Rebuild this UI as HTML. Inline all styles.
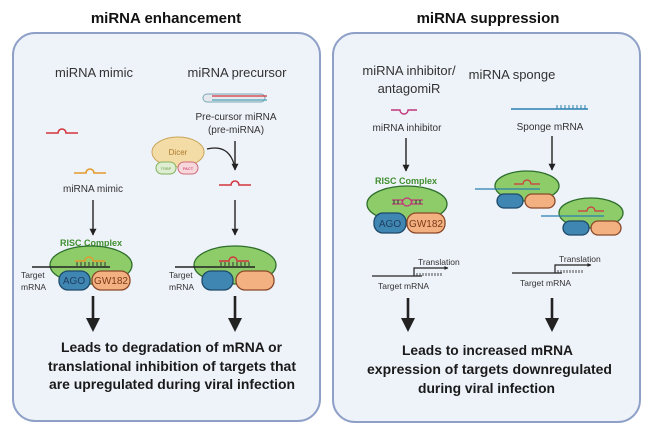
<!DOCTYPE html>
<html><head><meta charset="utf-8"><style>
html,body{margin:0;padding:0;background:#fff;width:650px;height:435px;overflow:hidden}
svg{display:block;font-family:"Liberation Sans",Arial,sans-serif}
</style></head><body>
<svg width="650" height="435" viewBox="0 0 650 435" xmlns="http://www.w3.org/2000/svg">
<defs>
<marker id="ahb" viewBox="0 0 10 10" refX="9" refY="5" markerWidth="3.2" markerHeight="3.2" orient="auto"><path d="M0,0L10,5L0,10z" fill="#222"/></marker>
<marker id="ah" viewBox="0 0 10 10" refX="9" refY="5" markerWidth="5" markerHeight="5" orient="auto"><path d="M0,0L10,5L0,10z" fill="#222"/></marker>
</defs>
<text x="166" y="23" font-size="15" font-weight="bold" text-anchor="middle" fill="#111">miRNA enhancement</text>
<text x="488" y="23" font-size="15" font-weight="bold" text-anchor="middle" fill="#111">miRNA suppression</text>
<rect x="13" y="33" width="307" height="388" rx="22" fill="#eef2f9" stroke="#8fa0c8" stroke-width="2"/>
<rect x="333" y="33" width="307" height="389" rx="22" fill="#eef2f9" stroke="#8fa0c8" stroke-width="2"/>

<g fill="#333" font-size="13">
<text x="94" y="77" text-anchor="middle">miRNA mimic</text>
<text x="237" y="77" text-anchor="middle">miRNA precursor</text>
<text x="409" y="75" text-anchor="middle">miRNA inhibitor/</text>
<text x="409" y="93" text-anchor="middle">antagomiR</text>
<text x="512" y="79" text-anchor="middle">miRNA sponge</text>
</g>

<g stroke="#d2353d" stroke-width="1.6" fill="none">
<path d="M46,133h12a4,4 0 0 1 8,0h12"/>
<path d="M219,185h12a4,4 0 0 1 8,0h12"/>
</g>
<g stroke="#e39a2a" stroke-width="1.6" fill="none"><path d="M74,173h12a4,4 0 0 1 8,0h12"/></g>
<rect x="203" y="94" width="62" height="8" rx="4" fill="#e6e8ee" stroke="#7aa9b5"/>
<path d="M212,96h55" stroke="#d2353d" stroke-width="1.2"/>
<path d="M212,100h55" stroke="#4da3b8" stroke-width="1.2"/>
<text x="236" y="120" font-size="10" text-anchor="middle" fill="#333">Pre-cursor miRNA</text>
<text x="236" y="133" font-size="10" text-anchor="middle" fill="#333">(pre-miRNA)</text>
<ellipse cx="178" cy="152" rx="26" ry="15" fill="#f3dca6" stroke="#c9a55a"/>
<text x="178" y="155" font-size="8" text-anchor="middle" fill="#b07a2a">Dicer</text>
<rect x="156" y="162" width="20" height="12" rx="6" fill="#dfeed2" stroke="#7fb35b"/>
<rect x="178" y="162" width="20" height="12" rx="6" fill="#f6d7dc" stroke="#cf6b7a"/>
<text x="166" y="170" font-size="4" text-anchor="middle" fill="#6a9a4a">TRBP</text>
<text x="188" y="170" font-size="4" text-anchor="middle" fill="#c25">PACT</text>
<path d="M207,149 Q228,144 234,164" stroke="#222" stroke-width="1.3" fill="none"/>
<text x="93" y="192" font-size="10" text-anchor="middle" fill="#333">miRNA mimic</text>

<g stroke="#222" stroke-width="1.4" marker-end="url(#ah)">
<line x1="235" y1="141" x2="235" y2="170"/>
<line x1="93" y1="200" x2="93" y2="235"/>
<line x1="235" y1="200" x2="235" y2="235"/>
<line x1="406" y1="138" x2="406" y2="171"/>
<line x1="552" y1="136" x2="552" y2="170"/>
</g>

<text x="91" y="246" font-size="9" font-weight="bold" text-anchor="middle" fill="#3f8f2f">RISC Complex</text>
<ellipse cx="91" cy="265" rx="41" ry="19" fill="#8ecc6a" stroke="#2c6e2a" stroke-width="1.3"/>
<path d="M77,266v-4M81,266v-4M85,266v-4M89,266v-4M93,266v-4M97,266v-4M101,266v-4M105,266v-4" stroke="#333"/>
<path d="M75,261h10a4,4 0 0 1 8,0h12" stroke="#e39a2a" stroke-width="1.4" fill="none"/>
<line x1="32" y1="267" x2="110" y2="267" stroke="#222" stroke-width="1.4"/>
<rect x="59" y="271" width="31" height="19" rx="9" fill="#3f86b3" stroke="#1e4a6a" stroke-width="1.3"/>
<rect x="92" y="271" width="38" height="19" rx="9" fill="#f3b080" stroke="#8a4a2a" stroke-width="1.3"/>
<text x="74" y="284" font-size="10" text-anchor="middle" fill="#1e3e5e">AGO</text>
<text x="111" y="284" font-size="10" text-anchor="middle" fill="#7a3a1a">GW182</text>
<text x="21" y="278" font-size="8.5" fill="#333">Target</text>
<text x="21" y="290" font-size="8.5" fill="#333">mRNA</text>
<ellipse cx="235" cy="265" rx="41" ry="19" fill="#8ecc6a" stroke="#2c6e2a" stroke-width="1.3"/>
<path d="M221,266v-4M225,266v-4M229,266v-4M233,266v-4M237,266v-4M241,266v-4M245,266v-4M249,266v-4" stroke="#333"/>
<path d="M219,261h10a4,4 0 0 1 8,0h12" stroke="#d2353d" stroke-width="1.4" fill="none"/>
<line x1="175" y1="267" x2="255" y2="267" stroke="#222" stroke-width="1.4"/>
<rect x="202" y="271" width="31" height="19" rx="9" fill="#3f86b3" stroke="#1e4a6a" stroke-width="1.3"/>
<rect x="236" y="271" width="38" height="19" rx="9" fill="#f3b080" stroke="#8a4a2a" stroke-width="1.3"/>
<text x="169" y="278" font-size="8.5" fill="#333">Target</text>
<text x="169" y="290" font-size="8.5" fill="#333">mRNA</text>

<path d="M391,110h9a4,4 0 0 0 8,0h9" stroke="#c2387a" stroke-width="1.4" fill="none"/>
<text x="407" y="131" font-size="10" text-anchor="middle" fill="#333">miRNA inhibitor</text>
<text x="406" y="184" font-size="9" font-weight="bold" text-anchor="middle" fill="#3f8f2f">RISC Complex</text>
<ellipse cx="407" cy="204" rx="40" ry="18" fill="#8ecc6a" stroke="#2c6e2a" stroke-width="1.3"/>
<path d="M392,204h10a5,6 0 0 1 10,0h11M392,200h10a5,6 0 0 0 10,0h11" stroke="#c2387a" stroke-width="1.3" fill="none"/>
<path d="M394,204v-4M398,204v-4M416,204v-4M420,204v-4" stroke="#333"/>
<rect x="374" y="213" width="32" height="20" rx="9" fill="#3f86b3" stroke="#1e4a6a" stroke-width="1.3"/>
<rect x="407" y="213" width="38" height="20" rx="9" fill="#f3b080" stroke="#8a4a2a" stroke-width="1.3"/>
<text x="390" y="227" font-size="10" text-anchor="middle" fill="#1e3e5e">AGO</text>
<text x="426" y="227" font-size="10" text-anchor="middle" fill="#7a3a1a">GW182</text>
<line x1="511" y1="109" x2="588" y2="109" stroke="#2a7fb0" stroke-width="1.4"/>
<path d="M557,109v-4M561,109v-4M565,109v-4M569,109v-4M573,109v-4M577,109v-4M581,109v-4M585,109v-4" stroke="#2a7fb0"/>
<text x="550" y="130" font-size="10" text-anchor="middle" fill="#333">Sponge mRNA</text>
<ellipse cx="527" cy="186" rx="32" ry="15" fill="#8ecc6a" stroke="#2c6e2a" stroke-width="1.3"/>
<line x1="475" y1="189" x2="540" y2="189" stroke="#2a7fb0" stroke-width="1.2"/>
<path d="M514,184h9a4,4 0 0 1 8,0h9" stroke="#d2353d" stroke-width="1.2" fill="none"/>
<rect x="497" y="194" width="26" height="14" rx="7" fill="#3f86b3" stroke="#1e4a6a" stroke-width="1.3"/>
<rect x="525" y="194" width="30" height="14" rx="7" fill="#f3b080" stroke="#8a4a2a" stroke-width="1.3"/>
<ellipse cx="591" cy="213" rx="32" ry="15" fill="#8ecc6a" stroke="#2c6e2a" stroke-width="1.3"/>
<line x1="541" y1="216" x2="604" y2="216" stroke="#2a7fb0" stroke-width="1.2"/>
<path d="M578,211h9a4,4 0 0 1 8,0h9" stroke="#d2353d" stroke-width="1.2" fill="none"/>
<rect x="563" y="221" width="26" height="14" rx="7" fill="#3f86b3" stroke="#1e4a6a" stroke-width="1.3"/>
<rect x="591" y="221" width="30" height="14" rx="7" fill="#f3b080" stroke="#8a4a2a" stroke-width="1.3"/>
<g stroke="#222" stroke-width="1.2" fill="none">
<path d="M372,276h50"/><path d="M414,276v-8h34" marker-end="url(#ahb)"/>
<path d="M512,273h50"/><path d="M555,273v-8h36" marker-end="url(#ahb)"/>
<path d="M417,276v-3M420,276v-3M423,276v-3M426,276v-3M429,276v-3M432,276v-3M435,276v-3M438,276v-3M441,276v-3" stroke-width="0.8"/>
<path d="M558,273v-3M561,273v-3M564,273v-3M567,273v-3M570,273v-3M573,273v-3M576,273v-3M579,273v-3M582,273v-3" stroke-width="0.8"/>
</g>
<text x="418" y="265" font-size="8.5" fill="#333">Translation</text>
<text x="559" y="262" font-size="8.5" fill="#333">Translation</text>
<text x="378" y="289" font-size="8.5" fill="#333">Target mRNA</text>
<text x="520" y="286" font-size="8.5" fill="#333">Target mRNA</text>

<g stroke="#222" stroke-width="2.6">
<line x1="93" y1="296" x2="93" y2="320"/>
<line x1="235" y1="296" x2="235" y2="320"/>
<line x1="408" y1="298" x2="408" y2="320"/>
<line x1="552" y1="298" x2="552" y2="320"/>
</g>
<g fill="#222">
<path d="M86,318h14l-7,14z"/><path d="M228,318h14l-7,14z"/>
<path d="M401,318h14l-7,14z"/><path d="M545,318h14l-7,14z"/>
</g>

<g font-size="14" font-weight="bold" fill="#1a1a1a">
<text x="61" y="352" textLength="221" lengthAdjust="spacingAndGlyphs">Leads to degradation of mRNA or</text>
<text x="48" y="371" textLength="248" lengthAdjust="spacingAndGlyphs">translational inhibition of targets that</text>
<text x="49" y="389" textLength="246" lengthAdjust="spacingAndGlyphs">are upregulated during viral infection</text>
<text x="402" y="355" textLength="171" lengthAdjust="spacingAndGlyphs">Leads to increased mRNA</text>
<text x="367" y="374" textLength="245" lengthAdjust="spacingAndGlyphs">expression of targets downregulated</text>
<text x="418" y="393" textLength="137" lengthAdjust="spacingAndGlyphs">during viral infection</text>
</g>
</svg>
</body></html>
